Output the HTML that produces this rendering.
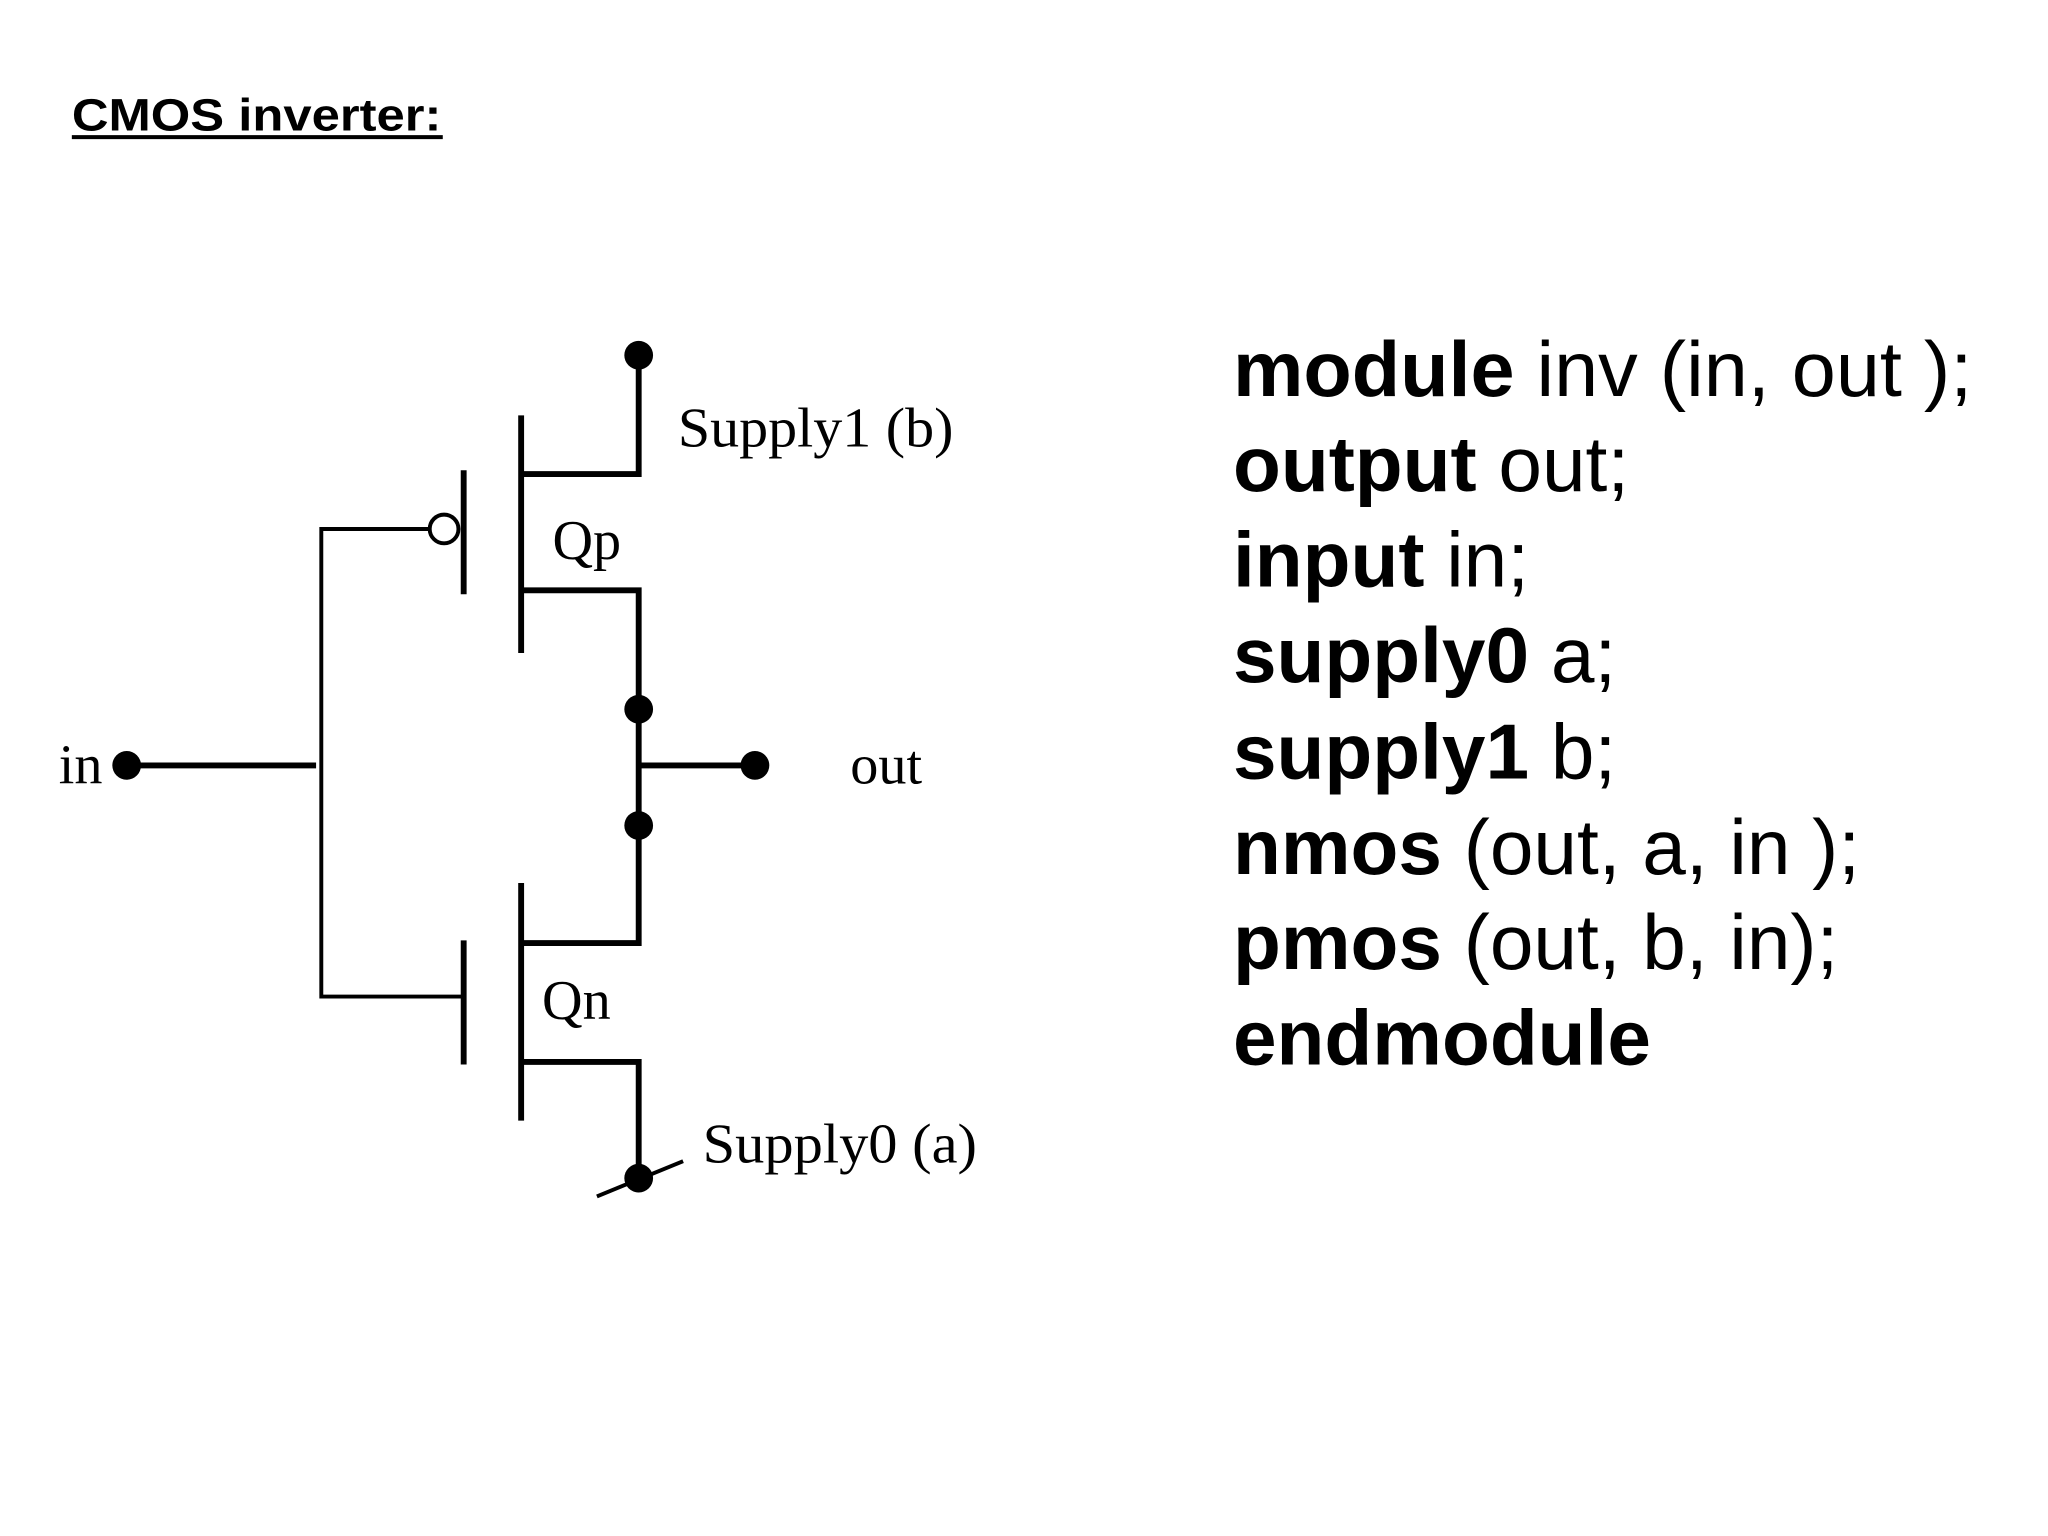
<!DOCTYPE html>
<html><head><meta charset="utf-8"><style>
html,body{margin:0;padding:0;background:#fff;}
svg{display:block;}
</style></head><body>
<svg width="2048" height="1536" viewBox="0 0 1568 1176" xmlns="http://www.w3.org/2000/svg">
<rect width="1568" height="1176" fill="#fff"/>
<text x="55" y="100" font-family="Liberation Sans, sans-serif" font-weight="bold" font-size="35" textLength="283" lengthAdjust="spacingAndGlyphs" fill="#000">CMOS inverter:</text>
<line x1="55" y1="105" x2="339" y2="105" stroke="#000" stroke-width="3"/>
<g stroke="#000" stroke-width="4.5" fill="none">
<polyline points="489,272 489,363 400,363"/>
<line x1="399" y1="318" x2="399" y2="500"/>
<line x1="355" y1="360" x2="355" y2="455"/>
<polyline points="400,452 489,452 489,722 400,722"/>
<line x1="399" y1="676" x2="399" y2="858"/>
<line x1="355" y1="720" x2="355" y2="815"/>
<polyline points="400,813 489,813 489,902"/>
<line x1="489" y1="586" x2="578" y2="586"/>
<line x1="97" y1="586" x2="242" y2="586"/>
<line x1="457" y1="916" x2="523" y2="889" stroke-width="3"/>
</g>
<g stroke="#000" stroke-width="3" fill="none">
<polyline points="329,405 246,405 246,763 355,763"/>
<circle cx="340" cy="405" r="11" fill="#fff"/>
</g>
<g fill="#000">
<circle cx="489" cy="272" r="11"/>
<circle cx="489" cy="543" r="11"/>
<circle cx="489" cy="632" r="11"/>
<circle cx="578" cy="586" r="11"/>
<circle cx="97" cy="586" r="11"/>
<circle cx="489" cy="902" r="11"/>
</g>
<g font-family="Liberation Serif, serif" font-size="43" fill="#000">
<text x="519" y="342" textLength="211" lengthAdjust="spacingAndGlyphs">Supply1 (b)</text>
<text x="423" y="428">Qp</text>
<text x="415" y="780">Qn</text>
<text x="651" y="600">out</text>
<text x="45" y="600">in</text>
<text x="538" y="890" textLength="210" lengthAdjust="spacingAndGlyphs">Supply0 (a)</text>
</g>
<g font-family="Liberation Sans, sans-serif" font-size="60" fill="#000">
<text x="944" y="303" textLength="566" lengthAdjust="spacingAndGlyphs"><tspan font-weight="bold">module</tspan> inv (in, out );</text>
<text x="944" y="376"><tspan font-weight="bold">output</tspan> out;</text>
<text x="944" y="449"><tspan font-weight="bold">input</tspan> in;</text>
<text x="944" y="522"><tspan font-weight="bold">supply0</tspan> a;</text>
<text x="944" y="596"><tspan font-weight="bold">supply1</tspan> b;</text>
<text x="944" y="669"><tspan font-weight="bold">nmos</tspan> (out, a, in );</text>
<text x="944" y="742"><tspan font-weight="bold">pmos</tspan> (out, b, in);</text>
<text x="944" y="815" font-weight="bold">endmodule</text>
</g>
</svg>
</body></html>
